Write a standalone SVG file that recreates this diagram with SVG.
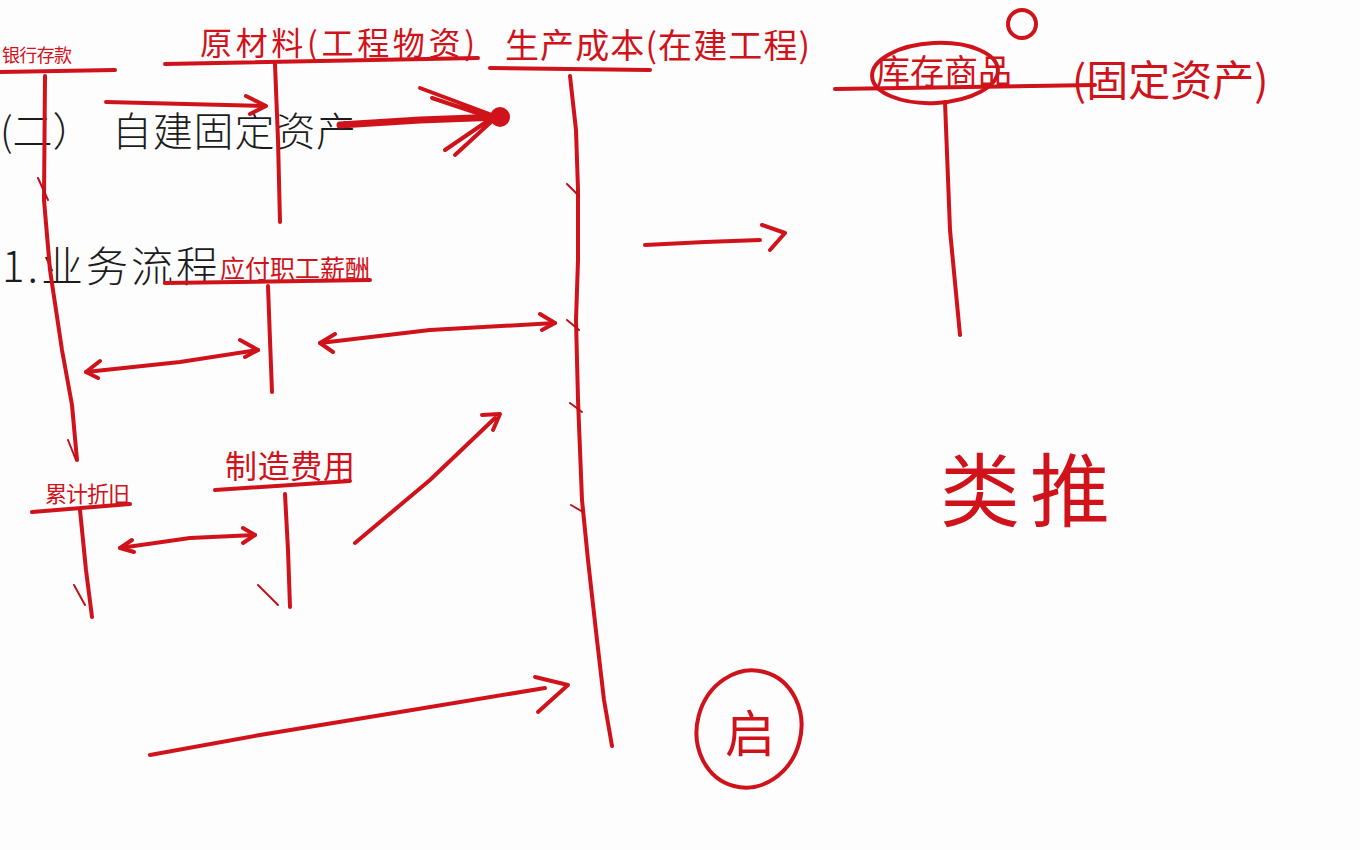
<svg xmlns="http://www.w3.org/2000/svg" width="1360" height="850" viewBox="0 0 1360 850">
<style>
.ink{fill:none;stroke:#d0121b;stroke-width:4;stroke-linecap:round;stroke-linejoin:round}
.thin{fill:none;stroke:#c0101a;stroke-width:2;stroke-linecap:round}
.thick{fill:none;stroke:#d0121b;stroke-width:7;stroke-linecap:round;stroke-linejoin:round}
.hw{fill:#d0121b;font-family:"Noto Sans CJK SC","Noto Sans CJK JP",sans-serif;font-weight:400}
.pr{fill:#1c1c1c;font-family:"Noto Sans CJK SC","Noto Sans CJK JP",sans-serif;font-weight:300}
</style>
<rect width="1360" height="850" fill="#fdfdfd"/>

<g id="printed">
<text class="pr" x="0" y="146" font-size="40">(二）</text>
<text class="pr" x="112" y="146" font-size="40" textLength="244">自建固定资产</text>
<text class="pr" x="2" y="282" font-size="42" textLength="216">1.业务流程</text>
</g>

<g id="node-bank">
<text class="hw" x="2" y="62" font-size="18" textLength="70">银行存款</text>
<path class="ink" d="M0 72 L115 70"/>
<path class="ink" d="M45 76 L44 200 L50 270 L62 350 L72 405 L77 460"/>
<path class="thin" d="M38 178 L48 200 M68 440 L76 460"/>
</g>

<g id="node-material">
<text class="hw" x="200" y="55" font-size="32" textLength="275">原材料(工程物资)</text>
<path class="ink" d="M165 64 L478 58"/>
<path class="ink" d="M275 64 L278 140 L280 222"/>
</g>

<g id="node-cost">
<text class="hw" x="505" y="58" font-size="34" textLength="305">生产成本(在建工程)</text>
<path class="ink" d="M490 68 L650 70"/>
<path class="ink" d="M570 76 L576 130 L578 190 L578 260 L576 320 L578 400 L582 500 L588 560 L597 640 L604 700 L612 746"/>
<path class="thin" d="M567 184 L579 196 M567 320 L579 330 M570 403 L582 412 M571 505 L583 512"/>
</g>

<g id="node-stock">
<text class="hw" x="876" y="84" font-size="34">库存商品</text>
<ellipse class="ink" cx="935" cy="73" rx="63" ry="30" transform="rotate(-3 935 73)"/>
<circle class="ink" cx="1022" cy="24" r="14"/>
<path class="ink" d="M835 89 L1095 85"/>
<path class="ink" d="M945 102 L950 230 L960 335"/>
<text class="hw" x="1072" y="96" font-size="42">(固定资产)</text>
</g>

<g id="node-payroll">
<text class="hw" x="220" y="278" font-size="25" textLength="150">应付职工薪酬</text>
<path class="ink" d="M165 283 L370 280"/>
<path class="ink" d="M268 286 L270 340 L272 392"/>
</g>

<g id="node-depr">
<text class="hw" x="45" y="502" font-size="22" textLength="85">累计折旧</text>
<path class="ink" d="M32 512 L130 504"/>
<path class="ink" d="M80 510 L86 570 L92 617"/>
<path class="thin" d="M74 585 L85 605"/>
</g>

<g id="node-overhead">
<text class="hw" x="225" y="478" font-size="32" textLength="130">制造费用</text>
<path class="ink" d="M215 490 L350 481"/>
<path class="ink" d="M285 494 L288 550 L290 607"/>
<path class="thin" d="M258 585 L278 605"/>
</g>

<g id="note-analogy">
<text class="hw" x="940" y="520" font-size="80" textLength="170">类推</text>
</g>

<g id="note-circle">
<ellipse class="ink" cx="749" cy="729" rx="52" ry="59" transform="rotate(15 749 729)"/>
<text class="hw" x="750" y="752" font-size="50" text-anchor="middle">启</text>
</g>

<g id="connectors">
<path class="ink" d="M106 102 L265 106"/>
<path class="ink" d="M246 96 L266 106 L250 114"/>
<path class="thick" d="M340 125 L420 120 L500 117"/>
<path class="ink" d="M420 88 L492 115 M432 98 L492 118 M445 150 L492 118 M455 155 L492 121"/>
<circle cx="500" cy="117" r="10" fill="#d0121b"/>
<path class="ink" d="M645 245 L705 242 L760 240"/>
<path class="ink" d="M762 225 L785 233 L770 250"/>
<path class="ink" d="M86 372 L180 362 L258 350"/>
<path class="ink" d="M100 361 L86 372 L98 378 M240 340 L258 350 L245 357"/>
<path class="ink" d="M320 343 L430 330 L555 323"/>
<path class="ink" d="M335 334 L320 343 L333 352 M540 314 L555 323 L542 330"/>
<path class="ink" d="M120 548 L190 538 L255 535"/>
<path class="ink" d="M132 540 L120 548 L134 552 M243 528 L255 535 L243 543"/>
<path class="ink" d="M355 543 L430 480 L495 418"/>
<path class="ink" d="M482 415 L500 414 L493 430"/>
<path class="ink" d="M150 755 L260 735 L400 712 L545 688"/>
<path class="ink" d="M535 677 L568 685 L538 712"/>
</g>
</svg>
